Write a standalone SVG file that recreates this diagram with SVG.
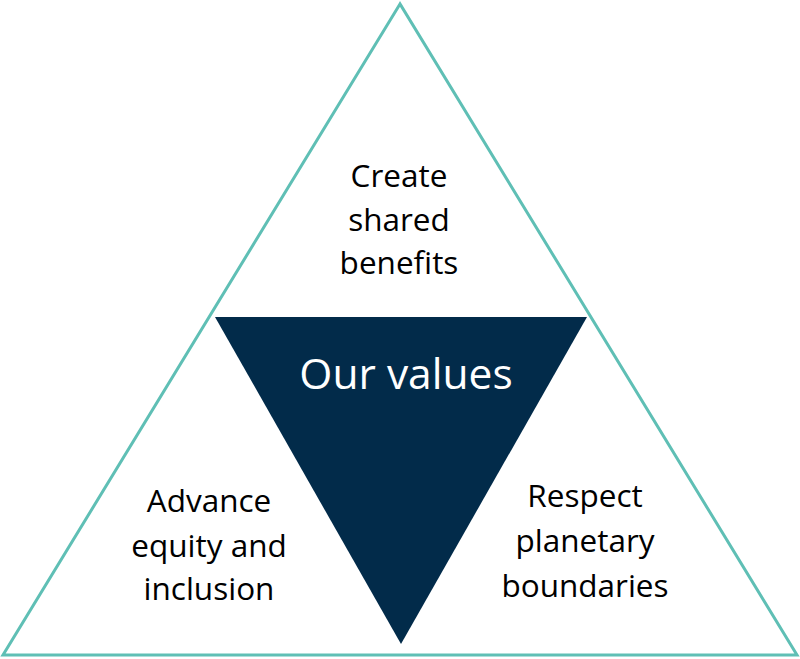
<svg xmlns="http://www.w3.org/2000/svg" width="800" height="659" viewBox="0 0 800 659">
<style>
.lbl{font-family:"Open Sans","Noto Sans","Liberation Sans",sans-serif;font-size:31.5px;fill:#000;text-anchor:middle}
.main{font-family:"Open Sans","Noto Sans","Liberation Sans",sans-serif;font-size:42.5px;fill:#fff;text-anchor:middle}
</style>
<rect width="800" height="659" fill="#fff"/>
<g id="outer">
<polygon points="400,4 3,655 797,655" fill="#fff" stroke="#5fbfb5" stroke-width="3" stroke-linejoin="miter"/>
</g>
<g id="center">
<polygon points="215,317 587,317 401,644" fill="#022b4a"/>
<text class="main" x="406" y="389">Our values</text>
</g>
<g id="top">
<text class="lbl" x="399" y="187">Create</text>
<text class="lbl" x="399" y="231">shared</text>
<text class="lbl" x="399" y="274">benefits</text>
</g>
<g id="left">
<text class="lbl" x="209" y="512">Advance</text>
<text class="lbl" x="209" y="557">equity and</text>
<text class="lbl" x="209" y="600">inclusion</text>
</g>
<g id="right">
<text class="lbl" x="585" y="507">Respect</text>
<text class="lbl" x="585" y="552">planetary</text>
<text class="lbl" x="585" y="597">boundaries</text>
</g>
<g id="connectors"></g>
</svg>
